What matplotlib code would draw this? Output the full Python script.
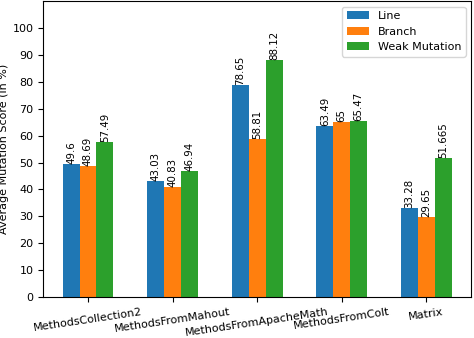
import numpy as np
from matplotlib import pyplot as plt

projects = ['MethodsCollection2', 'MethodsFromMahout', 'MethodsFromApacheMath',
            'MethodsFromColt', 'Matrix']
line_cov = [49.6, 43.03, 78.65, 63.49, 33.28]
branch_cov = [48.69, 40.83, 58.81, 65, 29.65]
weak_mut = [57.49, 46.94, 88.12, 65.47, 51.665]

plt.rcParams['font.size'] = 8

fig, ax = plt.subplots(figsize=(4.74, 3.38), dpi=100)
fig.subplots_adjust(left=0.091, right=0.994, top=0.997, bottom=0.121)

x = np.arange(len(projects))
w = 0.2

b1 = ax.bar(x - w, line_cov, w, label='Line')
b2 = ax.bar(x, branch_cov, w, label='Branch')
b3 = ax.bar(x + w, weak_mut, w, label='Weak Mutation')

for bars in (b1, b2, b3):
    ax.bar_label(bars, rotation=90, padding=0, fontsize=7.4)

ax.set_ylim(0, 110)
ax.set_yticks(range(0, 101, 10))
ax.set_ylabel('Average Mutation Score (in %)', labelpad=2.5)
ax.set_xticks(x)
ax.set_xticklabels(projects, rotation=8.5)
ax.legend(loc='upper right')

plt.savefig('out.png')
